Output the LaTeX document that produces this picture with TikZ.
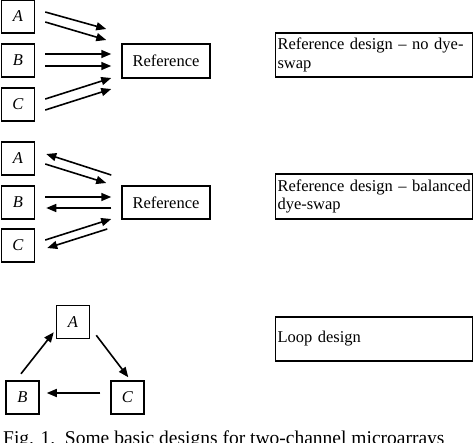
\documentclass[tikz,border=0pt]{standalone}
\usepackage{fontspec}
\setmainfont{Liberation Serif}
\usetikzlibrary{arrows.meta,calc}
\hyphenpenalty=10000
\exhyphenpenalty=10000
\begin{document}
\begin{tikzpicture}[x=1pt,y=-1pt,
  txt/.style={font=\fontsize{16.5}{18.5}\selectfont},
  smallbox/.style={draw, line width=1.5pt, minimum width=33pt, minimum height=33pt, inner sep=0pt, font=\fontsize{16.5}{18.5}\selectfont\itshape},
  refbox/.style={draw, line width=1.5pt, minimum width=88pt, minimum height=34pt, inner sep=0pt, txt},
  labelbox/.style={draw, line width=1.6pt, minimum height=44pt, text width=193pt, align=left, inner xsep=2pt, inner ysep=2pt, txt},
  arr/.style={line width=1.6pt, -{Triangle[length=10pt,width=8pt]}}
]
\useasboundingbox[fill=white] (0,0) rectangle (474,442);

% ---- top: reference design, no dye-swap
\node[smallbox] (A1) at (18,16.5) {A};
\node[smallbox] (B1) at (18,60.5) {B};
\node[smallbox] (C1) at (18,104.5) {C};
\node[refbox] (R1) at (166,61) {Reference};
\node[labelbox] (L1) at (374,55) {\mbox{Reference design -- no dye-}\\swap};

\draw[arr] ($(A1.east)+(10,-4.5)$) -- ($(R1.west)+(-15,-32)$);
\draw[arr] ($(A1.east)+(10,5.5)$) -- ($(R1.west)+(-15,-21)$);
\draw[arr] ($(B1.east)+(10,-6.5)$) -- ($(R1.west)+(-10,-7)$);
\draw[arr] ($(B1.east)+(10,5.5)$) -- ($(R1.west)+(-10,5)$);
\draw[arr] ($(C1.east)+(10,-5.5)$) -- ($(R1.west)+(-10,17)$);
\draw[arr] ($(C1.east)+(10,5.5)$) -- ($(R1.west)+(-10,28)$);

% ---- middle: reference design, balanced dye-swap
\node[smallbox] (A2) at (18,158.5) {A};
\node[smallbox] (B2) at (18,202.5) {B};
\node[smallbox] (C2) at (18,245.5) {C};
\node[refbox, minimum height=33pt] (R2) at (166,202.5) {Reference};
\node[labelbox, minimum height=45pt] (L2) at (374,196.5) {\mbox{Reference design -- balanced}\\dye-swap};

\draw[arr] ($(R2.west)+(-10,-27.5)$) -- ($(A2.east)+(11,-4.5)$);
\draw[arr] ($(A2.east)+(10,5.5)$) -- ($(R2.west)+(-15,-19.5)$);
\draw[arr] ($(B2.east)+(10,-5.5)$) -- ($(R2.west)+(-10,-5.5)$);
\draw[arr] ($(R2.west)+(-10,5.5)$) -- ($(B2.east)+(11,5.5)$);
\draw[arr] ($(C2.east)+(10,-5.5)$) -- ($(R2.west)+(-10,16.5)$);
\draw[arr] ($(R2.west)+(-14,26.5)$) -- ($(C2.east)+(12,2.5)$);

% ---- bottom: loop design
\node[smallbox] (A3) at (73,322) {A};
\node[smallbox] (B3) at (22.5,397.5) {B};
\node[smallbox] (C3) at (127.5,397.5) {C};
\node[labelbox] (L3) at (374,339) {Loop design};

\draw[arr] ($(B3.north)+(-1.5,-6.5)$) -- ($(A3.south west)+(-2,-7)$);
\draw[arr] ($(A3.south east)+(6,-4)$) -- ($(C3.north west)+(18,-3)$);
\draw[arr] ($(C3.west)+(-10,-4.5)$) -- ($(B3.east)+(7,-4.5)$);

% ---- caption
\node[anchor=base west, inner sep=0pt, font=\fontsize{19.5}{22}\selectfont] (cap) at (3,444) {Fig. 1.\ \ Some basic designs for two-channel microarrays};
\end{tikzpicture}
\end{document}
